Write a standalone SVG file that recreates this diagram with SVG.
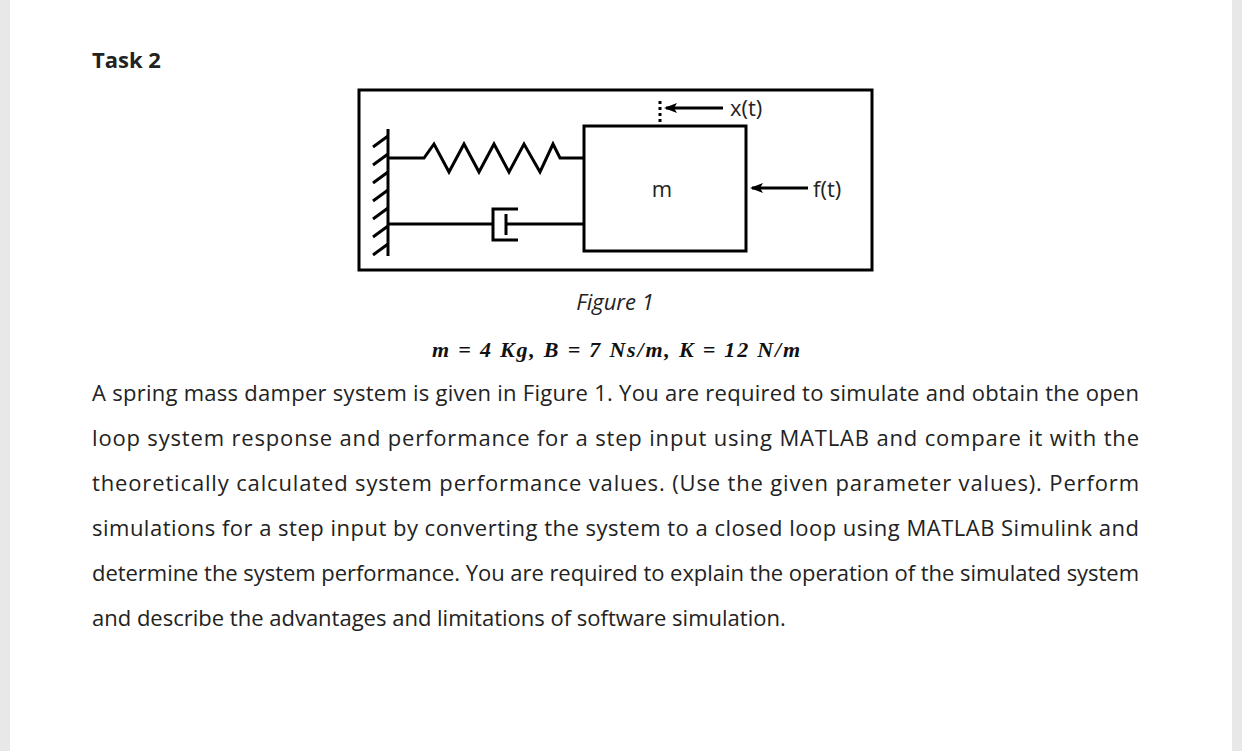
<svg xmlns="http://www.w3.org/2000/svg" width="1242" height="751" viewBox="0 0 1242 751">
<style>
.ln{stroke:#000;stroke-width:3;fill:none}
.t{font-family:"Open Sans","Noto Sans",sans-serif;fill:#222;font-size:22px}
.m{font-family:"Liberation Serif",serif;font-style:italic;font-weight:bold;font-size:22px;fill:#111}
</style>
<defs><marker id="ah" markerWidth="14" markerHeight="10" refX="11" refY="5" orient="auto" markerUnits="userSpaceOnUse"><path d="M13,5 L0,0 L3,5 L0,10z" fill="#000"/></marker></defs>
<rect x="0" y="0" width="1242" height="751" fill="#e8e8e8"/>
<rect x="10" y="0" width="1222" height="751" fill="#fff"/>
<text x="92" y="68" class="t" font-weight="bold" font-size="21">Task 2</text>
<g id="frame"><rect x="359" y="90" width="513" height="180" class="ln" stroke-width="2.5"/></g>
<g id="wall"><line x1="388" y1="129" x2="388" y2="256" class="ln"/>
<path class="ln" stroke-width="2.5" d="M373,147 L388,136 M373,165 L388,154 M373,183 L388,172 M373,201 L388,190 M373,219 L388,208 M373,237 L388,226 M373,255 L388,244"/></g>
<g id="connectors">
<polyline class="ln" points="388,158 424,158 434,144 449,172 464,144 479,172 494,144 509,172 524,144 540,172 553,144 560,158 583,158"/>
<line x1="388" y1="224" x2="493" y2="224" class="ln"/>
<polyline class="ln" points="518,209 493,209 493,240 518,240"/>
<line x1="506" y1="214" x2="506" y2="235" class="ln"/>
<line x1="506" y1="224" x2="583" y2="224" class="ln"/>
<line x1="660" y1="101" x2="660" y2="126" class="ln" stroke-dasharray="3,3"/>
<line x1="723" y1="108" x2="666" y2="108" class="ln" marker-end="url(#ah)"/>
<line x1="808" y1="188" x2="752" y2="188" class="ln" marker-end="url(#ah)"/>
</g>
<g id="mass"><rect x="584" y="126" width="162" height="125" class="ln"/>
<text x="662" y="197" class="t" font-size="36" text-anchor="middle">m</text></g>
<text x="730" y="116" class="t">x(t)</text>
<text x="813" y="197" class="t">f(t)</text>
<text x="615" y="310" class="t" font-style="italic" text-anchor="middle">Figure 1</text>
<text x="432" y="357" class="m" textLength="368" lengthAdjust="spacing">m = 4 Kg, B = 7 Ns/m, K = 12 N/m</text>
<g class="t">
<text x="92" y="401" textLength="1047" lengthAdjust="spacing">A spring mass damper system is given in Figure 1. You are required to simulate and obtain the open</text>
<text x="92" y="446" textLength="1047" lengthAdjust="spacing">loop system response and performance for a step input using MATLAB and compare it with the</text>
<text x="92" y="491" textLength="1047" lengthAdjust="spacing">theoretically calculated system performance values. (Use the given parameter values). Perform</text>
<text x="92" y="536" textLength="1047" lengthAdjust="spacing">simulations for a step input by converting the system to a closed loop using MATLAB Simulink and</text>
<text x="92" y="581" textLength="1047" lengthAdjust="spacing">determine the system performance. You are required to explain the operation of the simulated system</text>
<text x="92" y="626">and describe the advantages and limitations of software simulation.</text>
</g>
</svg>
